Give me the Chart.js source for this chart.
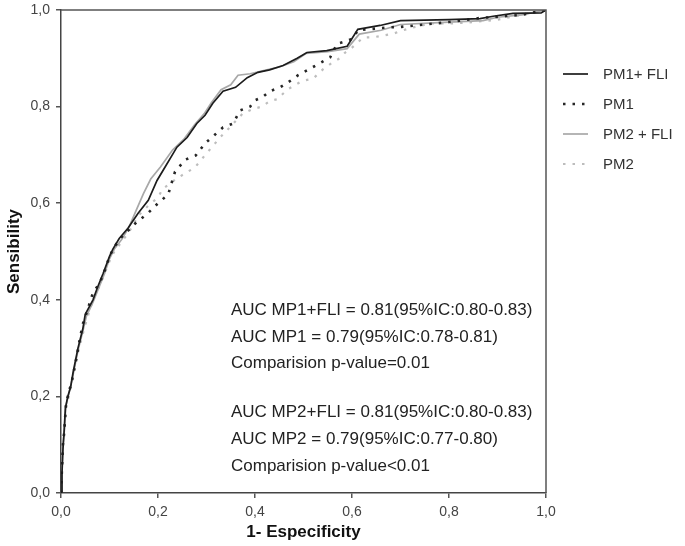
<!DOCTYPE html>
<html>
<head>
<meta charset="utf-8">
<script src="https://cdn.jsdelivr.net/npm/chart.js@4.4.1/dist/chart.umd.min.js"></script>
<style>
  html, body { margin: 0; padding: 0; background: #fff; }
  #wrap { width: 685px; height: 546px; position: relative; }
</style>
</head>
<body>
<div id="wrap"><canvas id="c"></canvas></div>
<script>
// ---- Data ----
const seriesNames = ["PM1+ FLI", "PM1", "PM2 + FLI", "PM2"];

const pm1fliX = [0,0.002,0.004,0.006,0.009,0.014,0.02,0.025,0.03,0.035,0.045,0.05,0.066,0.075,0.087,0.1,0.107,0.12,0.138,0.159,0.18,0.198,0.214,0.239,0.26,0.28,0.297,0.313,0.334,0.36,0.384,0.406,0.43,0.458,0.487,0.507,0.548,0.59,0.612,0.658,0.7,0.8,0.864,0.891,0.932,0.99,1];
const pm1fliY = [0,0.04,0.09,0.12,0.175,0.2,0.22,0.25,0.275,0.3,0.34,0.37,0.4,0.425,0.455,0.49,0.505,0.527,0.548,0.579,0.606,0.647,0.674,0.716,0.736,0.765,0.782,0.807,0.832,0.84,0.86,0.871,0.876,0.885,0.9,0.912,0.916,0.925,0.96,0.968,0.978,0.98,0.982,0.987,0.993,0.994,1];

const pm1X = [0,0.002,0.004,0.007,0.01,0.015,0.022,0.03,0.039,0.045,0.055,0.066,0.08,0.09,0.1,0.11,0.125,0.14,0.155,0.179,0.2,0.221,0.235,0.256,0.278,0.297,0.311,0.334,0.355,0.369,0.39,0.4,0.416,0.431,0.452,0.468,0.489,0.507,0.534,0.555,0.569,0.586,0.602,0.612,0.674,0.7,0.8,0.868,0.891,0.95,1];
const pm1Y = [0,0.05,0.1,0.13,0.18,0.205,0.23,0.27,0.32,0.35,0.38,0.415,0.435,0.46,0.49,0.51,0.53,0.545,0.56,0.579,0.6,0.618,0.665,0.69,0.699,0.724,0.736,0.757,0.765,0.792,0.8,0.813,0.82,0.832,0.84,0.85,0.865,0.875,0.89,0.902,0.93,0.935,0.941,0.958,0.964,0.965,0.975,0.984,0.985,0.99,1];

const pm2fliX = [0,0.002,0.004,0.007,0.01,0.015,0.025,0.035,0.045,0.052,0.066,0.078,0.09,0.1,0.11,0.125,0.14,0.155,0.17,0.185,0.205,0.23,0.253,0.275,0.295,0.31,0.33,0.35,0.365,0.39,0.42,0.45,0.48,0.505,0.55,0.59,0.615,0.66,0.7,0.8,0.87,0.9,0.95,1];
const pm2fliY = [0,0.05,0.1,0.13,0.18,0.2,0.245,0.295,0.335,0.365,0.395,0.425,0.455,0.485,0.505,0.525,0.55,0.585,0.62,0.65,0.675,0.71,0.732,0.762,0.785,0.808,0.835,0.845,0.865,0.868,0.875,0.882,0.893,0.91,0.914,0.92,0.95,0.958,0.97,0.975,0.978,0.985,0.99,1];

const pm2X = [0,0.002,0.004,0.007,0.01,0.016,0.025,0.035,0.045,0.055,0.066,0.08,0.09,0.1,0.11,0.125,0.14,0.16,0.18,0.2,0.21,0.24,0.276,0.3,0.328,0.348,0.375,0.396,0.414,0.431,0.445,0.468,0.497,0.52,0.54,0.559,0.575,0.586,0.6,0.623,0.647,0.685,0.705,0.726,0.761,0.808,0.85,0.9,0.95,1];
const pm2Y = [0,0.05,0.1,0.13,0.175,0.2,0.24,0.29,0.33,0.365,0.4,0.43,0.455,0.48,0.5,0.52,0.54,0.575,0.595,0.612,0.63,0.652,0.674,0.703,0.736,0.757,0.786,0.795,0.8,0.812,0.815,0.836,0.853,0.858,0.877,0.891,0.9,0.912,0.922,0.943,0.944,0.951,0.958,0.964,0.972,0.972,0.975,0.98,0.99,1];

const tickValues = [0, 0.2, 0.4, 0.6, 0.8, 1.0];
const annotationLines = [
  "AUC MP1+FLI = 0.81(95%IC:0.80-0.83)",
  "AUC MP1 = 0.79(95%IC:0.78-0.81)",
  "Comparision p-value=0.01",
  "",
  "AUC MP2+FLI = 0.81(95%IC:0.80-0.83)",
  "AUC MP2 = 0.79(95%IC:0.77-0.80)",
  "Comparision p-value<0.01"
];

function pts(xs, ys) { return xs.map((x, i) => ({ x: x, y: ys[i] })); }

const FONT = 'Arial, "Liberation Sans", Helvetica, sans-serif';
const fmt = v => Number(v).toFixed(1).replace('.', ',');

const styles = [
  { color: '#1c1c1c', width: 1.7, dash: [] },
  { color: '#262626', width: 2.6, dash: [2.5, 7] },
  { color: '#a8a8a8', width: 1.7, dash: [] },
  { color: '#bdbdbd', width: 2.2, dash: [2.5, 7] }
];
const series = [pts(pm1fliX, pm1fliY), pts(pm1X, pm1Y), pts(pm2fliX, pm2fliY), pts(pm2X, pm2Y)];

const datasets = series.map((d, i) => ({
  label: seriesNames[i],
  data: d,
  showLine: true,
  borderColor: styles[i].color,
  borderWidth: styles[i].width,
  borderDash: styles[i].dash,
  pointRadius: 0,
  tension: 0,
  fill: false
}));

const extras = {
  id: 'extras',
  afterDraw(chart) {
    const ctx = chart.ctx;
    const a = chart.chartArea;
    ctx.save();
    // frame: top and right
    ctx.strokeStyle = '#555';
    ctx.lineWidth = 1.5;
    ctx.setLineDash([]);
    ctx.beginPath();
    ctx.moveTo(a.left, a.top);
    ctx.lineTo(a.right, a.top);
    ctx.lineTo(a.right, a.bottom);
    ctx.stroke();

    // legend
    const legY0 = 74, legStep = 30;
    seriesNames.forEach((name, i) => {
      const y = legY0 + legStep * i;
      ctx.strokeStyle = styles[i].color;
      ctx.lineWidth = styles[i].width;
      ctx.setLineDash(styles[i].dash);
      ctx.beginPath();
      ctx.moveTo(a.right + 17, y);
      ctx.lineTo(a.right + 42, y);
      ctx.stroke();
      ctx.setLineDash([]);
      ctx.fillStyle = '#333';
      ctx.font = '15px ' + FONT;
      ctx.textAlign = 'left';
      ctx.textBaseline = 'middle';
      ctx.fillText(name, a.right + 57, y + 1);
    });

    // annotations
    ctx.fillStyle = '#222';
    ctx.font = '17px ' + FONT;
    ctx.textAlign = 'left';
    ctx.textBaseline = 'alphabetic';
    const base = [315, 342, 368, 0, 417, 444, 471];
    annotationLines.forEach((t, i) => {
      if (t) ctx.fillText(t, a.left + 170, base[i]);
    });
    ctx.restore();
  }
};

new Chart(document.getElementById('c'), {
  type: 'scatter',
  data: { datasets: datasets },
  options: {
    responsive: true,
    maintainAspectRatio: false,
    animation: false,
    layout: { padding: { top: 10, right: 139, left: 0, bottom: 0 } },
    plugins: { legend: { display: false }, tooltip: { enabled: false } },
    scales: {
      x: {
        type: 'linear', min: 0, max: 1,
        afterFit(s) { s.height = 53; s.paddingLeft = 0; s.paddingRight = 0; },
        afterBuildTicks(s) { s.ticks = tickValues.map(v => ({ value: v })); },
        ticks: { callback: fmt, color: '#444', font: { family: FONT, size: 14 }, padding: 6, maxRotation: 0 },
        grid: { display: true, drawOnChartArea: false, drawTicks: true, tickLength: 5, color: '#555', lineWidth: 1.5 },
        border: { display: true, color: '#444', width: 1.5 },
        title: { display: true, text: '1- Especificity', color: '#111', font: { family: FONT, size: 17, weight: 'bold' }, padding: { top: 0, bottom: 3 } }
      },
      y: {
        type: 'linear', min: 0, max: 1,
        afterFit(s) { s.width = 61; s.paddingTop = 0; s.paddingBottom = 0; },
        afterBuildTicks(s) { s.ticks = tickValues.map(v => ({ value: v })); },
        ticks: { callback: fmt, color: '#444', font: { family: FONT, size: 14 }, padding: 6 },
        grid: { display: true, drawOnChartArea: false, drawTicks: true, tickLength: 5, color: '#555', lineWidth: 1.5 },
        border: { display: true, color: '#444', width: 1.5 },
        title: { display: true, text: 'Sensibility', color: '#111', font: { family: FONT, size: 17, weight: 'bold' }, padding: { top: 4, bottom: 0 } }
      }
    }
  },
  plugins: [extras]
});
</script>
</body>
</html>
